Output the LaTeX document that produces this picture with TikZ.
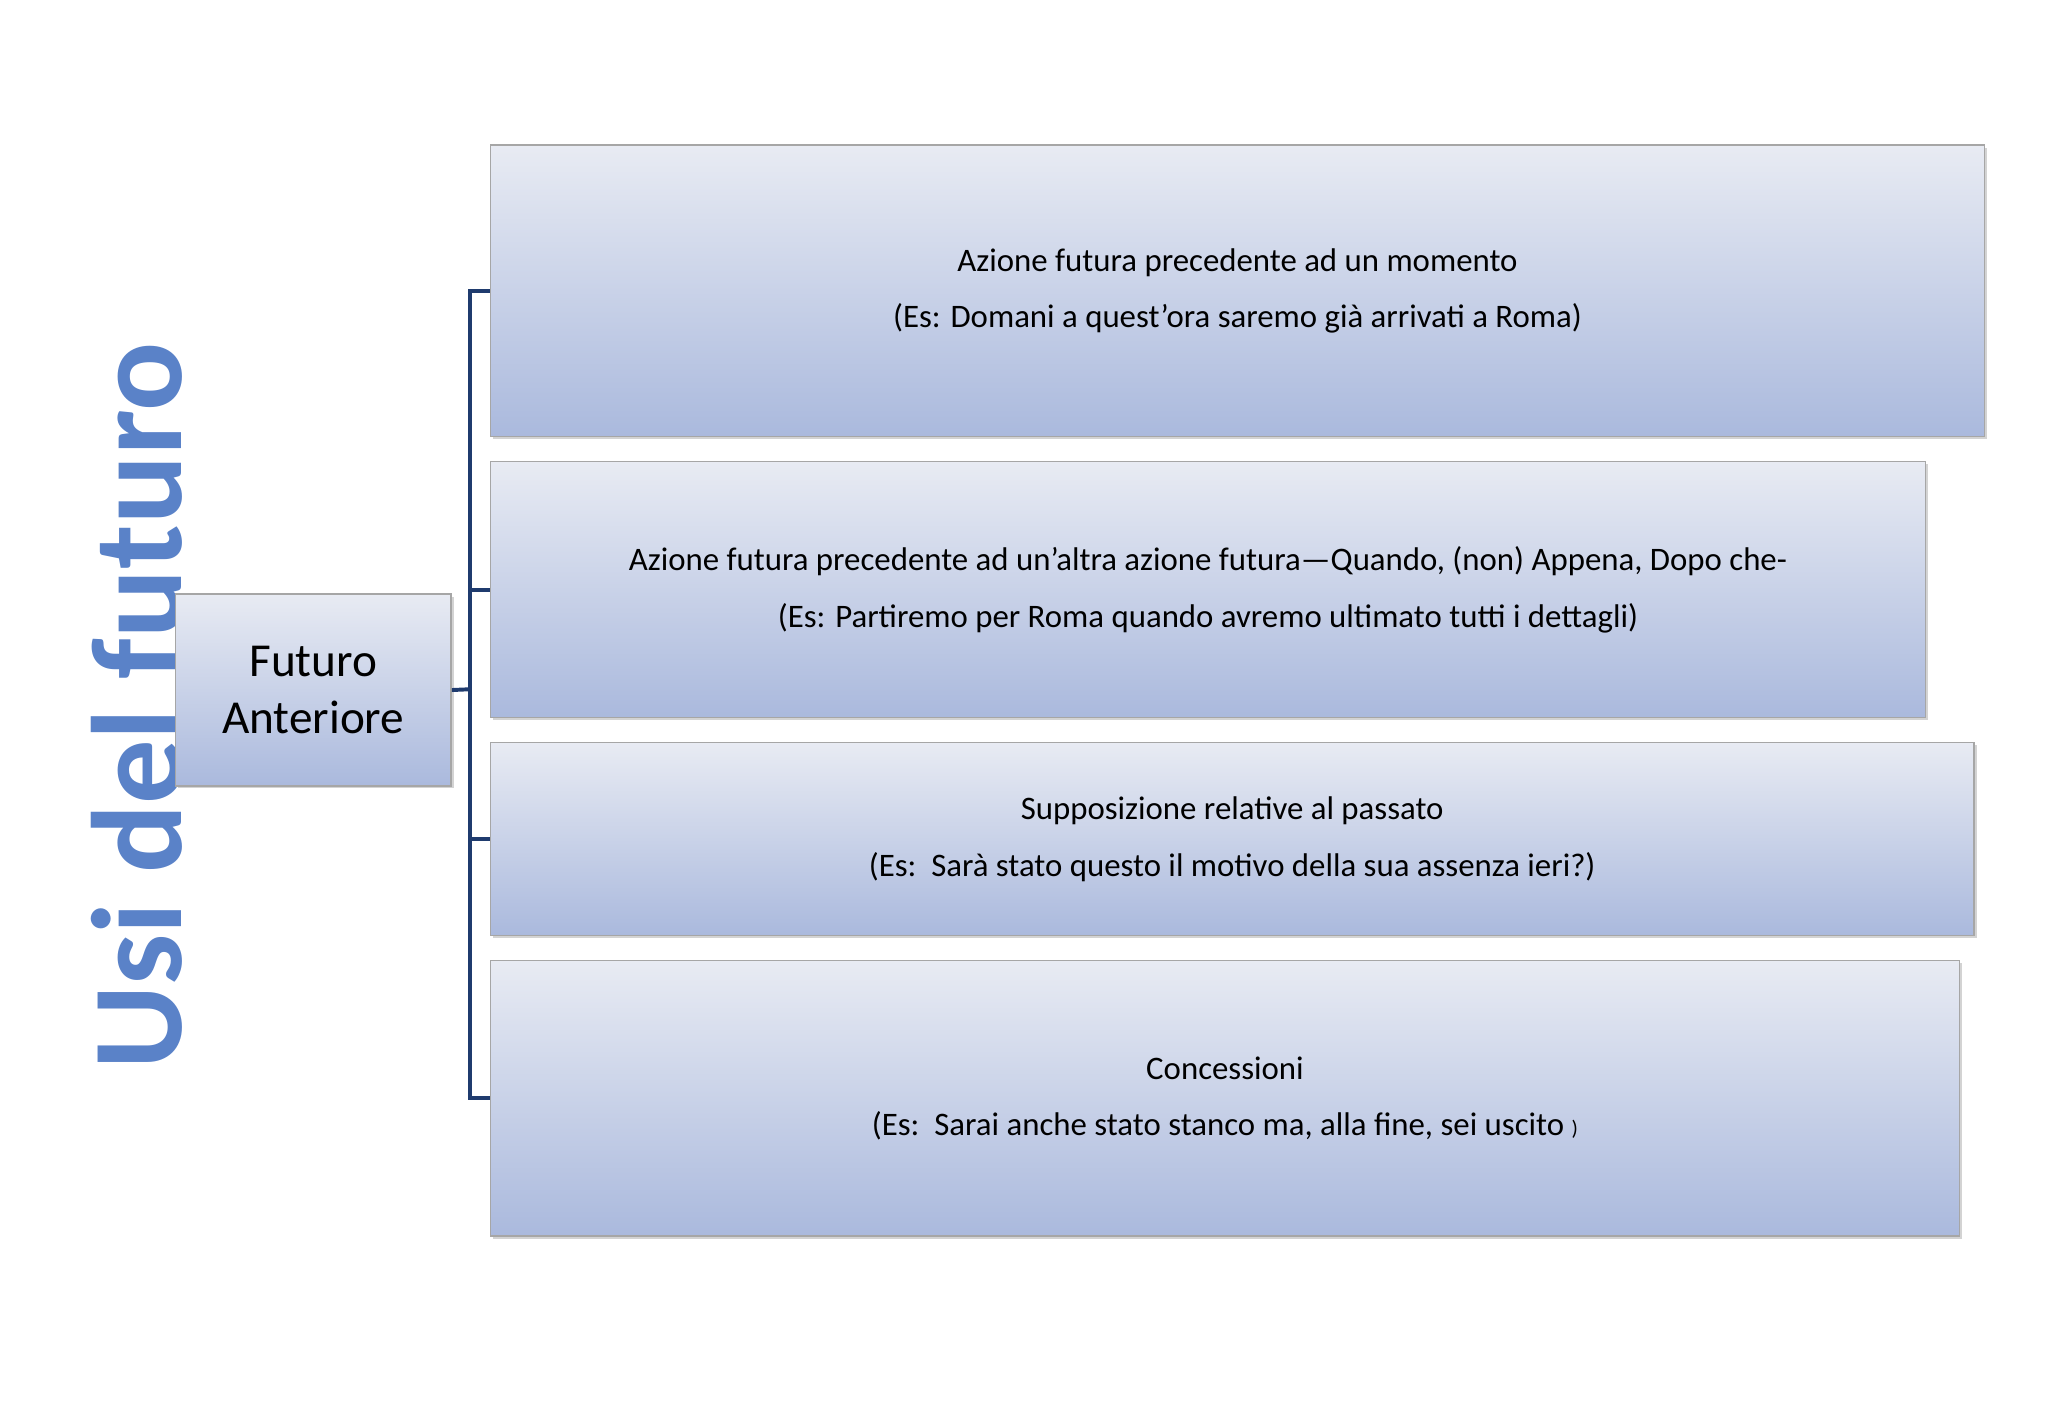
\documentclass[tikz,border=0pt]{standalone}
\usepackage{fontspec}
\setmainfont{Carlito}
\usetikzlibrary{positioning, shadows}
\definecolor{boxtop}{HTML}{E8EBF3}
\definecolor{boxbot}{HTML}{AAB9DD}
\definecolor{linkblue}{HTML}{1F3B6E}
\definecolor{titleblue}{HTML}{5A82C8}
\begin{document}
\begin{tikzpicture}[x=1pt, y=-1pt]
        \tikzset{
          usebox/.style={draw=gray!70, line width=1.2pt, top color=boxtop, bottom color=boxbot,
            drop shadow={shadow xshift=2pt, shadow yshift=-2pt, opacity=0.35},
            anchor=north west, inner sep=0pt, align=center, font=\fontsize{25}{43}\selectfont},
          link/.style={draw=linkblue, line width=3pt}
        }
        \useasboundingbox (0,0) rectangle (1560,1080);

        % title
        \node[rotate=90, text=titleblue, font=\fontsize{98}{98}\bfseries\selectfont,
          inner sep=0pt] (title) at (104,538) {Usi del futuro};

        % main node
        \node[usebox, minimum width=210pt, minimum height=146pt,
          font=\fontsize{36}{44}\selectfont] (fa) at (133,452) {Futuro\\Anteriore};

        % uses
        \node[usebox, minimum width=1138pt, minimum height=222pt] (u1) at (373,110)
          {Azione futura precedente ad un momento\\(Es: Domani a quest’ora saremo già arrivati a Roma)};
        \node[usebox, minimum width=1093pt, minimum height=195pt] (u2) at (373,351)
          {Azione futura precedente ad un’altra azione futura—Quando, (non) Appena, Dopo che-\\(Es: Partiremo per Roma quando avremo ultimato tutti i dettagli)};
        \node[usebox, minimum width=1130pt, minimum height=147pt] (u3) at (373,565)
          {Supposizione relative al passato\\(Es:\ \ Sarà stato questo il motivo della sua assenza ieri?)};
        \node[usebox, minimum width=1119pt, minimum height=210pt] (u4) at (373,731)
          {Concessioni\\(Es:\ \ Sarai anche stato stanco ma, alla fine, sei uscito {\fontsize{16}{16}\selectfont)}};

        % bracket
        \coordinate (br) at (358,525);
        \draw[link] (fa.east) -- (br);
        \draw[link] (u1.west) -- (u1.west -| br) -- (u4.west -| br) -- (u4.west);
        \draw[link] (u2.west -| br) -- (u2.west);
        \draw[link] (u3.west -| br) -- (u3.west);
\end{tikzpicture}
\end{document}
